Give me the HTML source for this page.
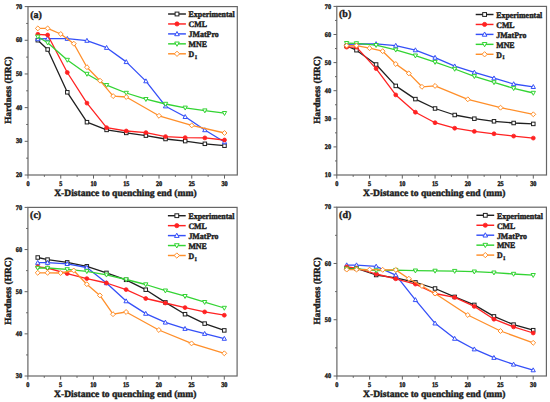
<!DOCTYPE html>
<html><head><meta charset="utf-8"><style>
html,body{margin:0;padding:0;background:#fff;}
body{width:550px;height:402px;overflow:hidden;}
svg{display:block;text-rendering:geometricPrecision;}
text{font-family:"Liberation Serif",serif;font-weight:bold;fill:#1a1a1a;stroke:#1a1a1a;stroke-width:0.4px;}
.tk{font-size:7.1px;}
.xl{font-size:9.57px;}
.yl{font-size:9.36px;}
.pl{font-size:10px;}
.lg{font-size:8.5px;}
</style></head><body>
<svg width="550" height="402" viewBox="0 0 550 402">
<rect width="550" height="402" fill="#fff"/>
<rect x="28.00" y="6.60" width="209.30" height="168.40" fill="none" stroke="#666" stroke-width="1.2"/>
<line x1="28.00" y1="175.00" x2="28.00" y2="178.60" stroke="#626262" stroke-width="1"/>
<text transform="translate(28.00,186.00) scale(0.88,1)" class="tk" text-anchor="middle">0</text>
<line x1="60.75" y1="175.00" x2="60.75" y2="178.60" stroke="#626262" stroke-width="1"/>
<text transform="translate(60.75,186.00) scale(0.88,1)" class="tk" text-anchor="middle">5</text>
<line x1="93.50" y1="175.00" x2="93.50" y2="178.60" stroke="#626262" stroke-width="1"/>
<text transform="translate(93.50,186.00) scale(0.88,1)" class="tk" text-anchor="middle">10</text>
<line x1="126.25" y1="175.00" x2="126.25" y2="178.60" stroke="#626262" stroke-width="1"/>
<text transform="translate(126.25,186.00) scale(0.88,1)" class="tk" text-anchor="middle">15</text>
<line x1="159.00" y1="175.00" x2="159.00" y2="178.60" stroke="#626262" stroke-width="1"/>
<text transform="translate(159.00,186.00) scale(0.88,1)" class="tk" text-anchor="middle">20</text>
<line x1="191.75" y1="175.00" x2="191.75" y2="178.60" stroke="#626262" stroke-width="1"/>
<text transform="translate(191.75,186.00) scale(0.88,1)" class="tk" text-anchor="middle">25</text>
<line x1="224.50" y1="175.00" x2="224.50" y2="178.60" stroke="#626262" stroke-width="1"/>
<text transform="translate(224.50,186.00) scale(0.88,1)" class="tk" text-anchor="middle">30</text>
<line x1="44.38" y1="175.00" x2="44.38" y2="176.80" stroke="#626262" stroke-width="1"/>
<line x1="77.12" y1="175.00" x2="77.12" y2="176.80" stroke="#626262" stroke-width="1"/>
<line x1="109.88" y1="175.00" x2="109.88" y2="176.80" stroke="#626262" stroke-width="1"/>
<line x1="142.62" y1="175.00" x2="142.62" y2="176.80" stroke="#626262" stroke-width="1"/>
<line x1="175.38" y1="175.00" x2="175.38" y2="176.80" stroke="#626262" stroke-width="1"/>
<line x1="208.12" y1="175.00" x2="208.12" y2="176.80" stroke="#626262" stroke-width="1"/>
<line x1="24.70" y1="175.00" x2="28.00" y2="175.00" stroke="#626262" stroke-width="1"/>
<text transform="translate(22.20,177.10) scale(0.88,1)" class="tk" text-anchor="end">20</text>
<line x1="26.20" y1="158.16" x2="28.00" y2="158.16" stroke="#626262" stroke-width="1"/>
<line x1="24.70" y1="141.32" x2="28.00" y2="141.32" stroke="#626262" stroke-width="1"/>
<text transform="translate(22.20,143.42) scale(0.88,1)" class="tk" text-anchor="end">30</text>
<line x1="26.20" y1="124.48" x2="28.00" y2="124.48" stroke="#626262" stroke-width="1"/>
<line x1="24.70" y1="107.64" x2="28.00" y2="107.64" stroke="#626262" stroke-width="1"/>
<text transform="translate(22.20,109.74) scale(0.88,1)" class="tk" text-anchor="end">40</text>
<line x1="26.20" y1="90.80" x2="28.00" y2="90.80" stroke="#626262" stroke-width="1"/>
<line x1="24.70" y1="73.96" x2="28.00" y2="73.96" stroke="#626262" stroke-width="1"/>
<text transform="translate(22.20,76.06) scale(0.88,1)" class="tk" text-anchor="end">50</text>
<line x1="26.20" y1="57.12" x2="28.00" y2="57.12" stroke="#626262" stroke-width="1"/>
<line x1="24.70" y1="40.28" x2="28.00" y2="40.28" stroke="#626262" stroke-width="1"/>
<text transform="translate(22.20,42.38) scale(0.88,1)" class="tk" text-anchor="end">60</text>
<line x1="26.20" y1="23.44" x2="28.00" y2="23.44" stroke="#626262" stroke-width="1"/>
<line x1="24.70" y1="6.60" x2="28.00" y2="6.60" stroke="#626262" stroke-width="1"/>
<text transform="translate(22.20,8.70) scale(0.88,1)" class="tk" text-anchor="end">70</text>
<text x="125.40" y="196.20" class="xl" text-anchor="middle">X-Distance to quenching end (mm)</text>
<text transform="translate(11.20,90.15) rotate(-90)" class="yl" text-anchor="middle">Hardness (HRC)</text>
<text x="30.20" y="17.60" class="pl">(a)</text>
<path d="M37.83 40.20 L47.65 49.50 L67.30 92.30 L86.95 122.20 L106.60 129.90 L126.25 132.90 L145.90 135.60 L165.55 139.00 L185.20 141.10 L204.85 143.80 L224.50 145.70" fill="none" stroke="#202020" stroke-width="1.3" stroke-linejoin="round"/>
<rect x="36.08" y="38.45" width="3.50" height="3.50" fill="#fff" stroke="#202020" stroke-width="1"/>
<rect x="45.90" y="47.75" width="3.50" height="3.50" fill="#fff" stroke="#202020" stroke-width="1"/>
<rect x="65.55" y="90.55" width="3.50" height="3.50" fill="#fff" stroke="#202020" stroke-width="1"/>
<rect x="85.20" y="120.45" width="3.50" height="3.50" fill="#fff" stroke="#202020" stroke-width="1"/>
<rect x="104.85" y="128.15" width="3.50" height="3.50" fill="#fff" stroke="#202020" stroke-width="1"/>
<rect x="124.50" y="131.15" width="3.50" height="3.50" fill="#fff" stroke="#202020" stroke-width="1"/>
<rect x="144.15" y="133.85" width="3.50" height="3.50" fill="#fff" stroke="#202020" stroke-width="1"/>
<rect x="163.80" y="137.25" width="3.50" height="3.50" fill="#fff" stroke="#202020" stroke-width="1"/>
<rect x="183.45" y="139.35" width="3.50" height="3.50" fill="#fff" stroke="#202020" stroke-width="1"/>
<rect x="203.10" y="142.05" width="3.50" height="3.50" fill="#fff" stroke="#202020" stroke-width="1"/>
<rect x="222.75" y="143.95" width="3.50" height="3.50" fill="#fff" stroke="#202020" stroke-width="1"/>
<path d="M37.83 39.00 L47.65 38.60 L67.30 38.70 L86.95 40.60 L106.60 47.70 L126.25 61.90 L145.90 81.10 L165.55 106.20 L185.20 116.80 L204.85 130.00 L224.50 142.00" fill="none" stroke="#3550f8" stroke-width="1.3" stroke-linejoin="round"/>
<path d="M37.83 36.74L39.98 40.69L35.67 40.69Z" fill="#fff" stroke="#3550f8" stroke-width="1"/>
<path d="M47.65 36.34L49.80 40.29L45.50 40.29Z" fill="#fff" stroke="#3550f8" stroke-width="1"/>
<path d="M67.30 36.45L69.45 40.39L65.15 40.39Z" fill="#fff" stroke="#3550f8" stroke-width="1"/>
<path d="M86.95 38.34L89.10 42.29L84.80 42.29Z" fill="#fff" stroke="#3550f8" stroke-width="1"/>
<path d="M106.60 45.45L108.75 49.39L104.45 49.39Z" fill="#fff" stroke="#3550f8" stroke-width="1"/>
<path d="M126.25 59.64L128.40 63.59L124.10 63.59Z" fill="#fff" stroke="#3550f8" stroke-width="1"/>
<path d="M145.90 78.84L148.05 82.79L143.75 82.79Z" fill="#fff" stroke="#3550f8" stroke-width="1"/>
<path d="M165.55 103.95L167.70 107.89L163.40 107.89Z" fill="#fff" stroke="#3550f8" stroke-width="1"/>
<path d="M185.20 114.55L187.35 118.49L183.05 118.49Z" fill="#fff" stroke="#3550f8" stroke-width="1"/>
<path d="M204.85 127.75L207.00 131.69L202.70 131.69Z" fill="#fff" stroke="#3550f8" stroke-width="1"/>
<path d="M224.50 139.75L226.65 143.69L222.35 143.69Z" fill="#fff" stroke="#3550f8" stroke-width="1"/>
<path d="M37.83 34.30 L47.65 35.00 L67.30 72.50 L86.95 103.10 L106.60 127.70 L126.25 131.00 L145.90 132.60 L165.55 136.60 L185.20 137.60 L204.85 137.90 L224.50 140.00" fill="none" stroke="#ff2222" stroke-width="1.3" stroke-linejoin="round"/>
<circle cx="37.83" cy="34.30" r="1.95" fill="#ff2222" stroke="#ff2222" stroke-width="0.8"/>
<circle cx="47.65" cy="35.00" r="1.95" fill="#ff2222" stroke="#ff2222" stroke-width="0.8"/>
<circle cx="67.30" cy="72.50" r="1.95" fill="#ff2222" stroke="#ff2222" stroke-width="0.8"/>
<circle cx="86.95" cy="103.10" r="1.95" fill="#ff2222" stroke="#ff2222" stroke-width="0.8"/>
<circle cx="106.60" cy="127.70" r="1.95" fill="#ff2222" stroke="#ff2222" stroke-width="0.8"/>
<circle cx="126.25" cy="131.00" r="1.95" fill="#ff2222" stroke="#ff2222" stroke-width="0.8"/>
<circle cx="145.90" cy="132.60" r="1.95" fill="#ff2222" stroke="#ff2222" stroke-width="0.8"/>
<circle cx="165.55" cy="136.60" r="1.95" fill="#ff2222" stroke="#ff2222" stroke-width="0.8"/>
<circle cx="185.20" cy="137.60" r="1.95" fill="#ff2222" stroke="#ff2222" stroke-width="0.8"/>
<circle cx="204.85" cy="137.90" r="1.95" fill="#ff2222" stroke="#ff2222" stroke-width="0.8"/>
<circle cx="224.50" cy="140.00" r="1.95" fill="#ff2222" stroke="#ff2222" stroke-width="0.8"/>
<path d="M37.83 36.80 L47.65 42.70 L67.30 60.00 L86.95 74.00 L106.60 85.20 L126.25 93.00 L145.90 99.20 L165.55 104.00 L185.20 107.80 L204.85 110.60 L224.50 113.20" fill="none" stroke="#33d433" stroke-width="1.3" stroke-linejoin="round"/>
<path d="M37.83 39.05L39.98 35.11L35.67 35.11Z" fill="#fff" stroke="#33d433" stroke-width="1"/>
<path d="M47.65 44.96L49.80 41.01L45.50 41.01Z" fill="#fff" stroke="#33d433" stroke-width="1"/>
<path d="M67.30 62.26L69.45 58.31L65.15 58.31Z" fill="#fff" stroke="#33d433" stroke-width="1"/>
<path d="M86.95 76.25L89.10 72.31L84.80 72.31Z" fill="#fff" stroke="#33d433" stroke-width="1"/>
<path d="M106.60 87.45L108.75 83.51L104.45 83.51Z" fill="#fff" stroke="#33d433" stroke-width="1"/>
<path d="M126.25 95.25L128.40 91.31L124.10 91.31Z" fill="#fff" stroke="#33d433" stroke-width="1"/>
<path d="M145.90 101.45L148.05 97.51L143.75 97.51Z" fill="#fff" stroke="#33d433" stroke-width="1"/>
<path d="M165.55 106.25L167.70 102.31L163.40 102.31Z" fill="#fff" stroke="#33d433" stroke-width="1"/>
<path d="M185.20 110.05L187.35 106.11L183.05 106.11Z" fill="#fff" stroke="#33d433" stroke-width="1"/>
<path d="M204.85 112.85L207.00 108.91L202.70 108.91Z" fill="#fff" stroke="#33d433" stroke-width="1"/>
<path d="M224.50 115.45L226.65 111.51L222.35 111.51Z" fill="#fff" stroke="#33d433" stroke-width="1"/>
<path d="M37.83 28.40 L47.65 28.40 L60.75 34.00 L73.85 43.70 L86.95 67.20 L100.05 80.70 L113.15 96.10 L126.25 97.00 L159.00 115.80 L191.75 125.40 L224.50 133.00" fill="none" stroke="#ff8f2a" stroke-width="1.3" stroke-linejoin="round"/>
<path d="M37.83 25.94L40.29 28.40L37.83 30.86L35.37 28.40Z" fill="#fff" stroke="#ff8f2a" stroke-width="1"/>
<path d="M47.65 25.94L50.11 28.40L47.65 30.86L45.19 28.40Z" fill="#fff" stroke="#ff8f2a" stroke-width="1"/>
<path d="M60.75 31.54L63.21 34.00L60.75 36.46L58.29 34.00Z" fill="#fff" stroke="#ff8f2a" stroke-width="1"/>
<path d="M73.85 41.24L76.31 43.70L73.85 46.16L71.39 43.70Z" fill="#fff" stroke="#ff8f2a" stroke-width="1"/>
<path d="M86.95 64.74L89.41 67.20L86.95 69.66L84.49 67.20Z" fill="#fff" stroke="#ff8f2a" stroke-width="1"/>
<path d="M100.05 78.24L102.51 80.70L100.05 83.16L97.59 80.70Z" fill="#fff" stroke="#ff8f2a" stroke-width="1"/>
<path d="M113.15 93.64L115.61 96.10L113.15 98.56L110.69 96.10Z" fill="#fff" stroke="#ff8f2a" stroke-width="1"/>
<path d="M126.25 94.54L128.71 97.00L126.25 99.46L123.79 97.00Z" fill="#fff" stroke="#ff8f2a" stroke-width="1"/>
<path d="M159.00 113.34L161.46 115.80L159.00 118.26L156.54 115.80Z" fill="#fff" stroke="#ff8f2a" stroke-width="1"/>
<path d="M191.75 122.94L194.21 125.40L191.75 127.86L189.29 125.40Z" fill="#fff" stroke="#ff8f2a" stroke-width="1"/>
<path d="M224.50 130.54L226.96 133.00L224.50 135.46L222.04 133.00Z" fill="#fff" stroke="#ff8f2a" stroke-width="1"/>
<line x1="168.10" y1="14.00" x2="185.90" y2="14.00" stroke="#202020" stroke-width="1.45"/>
<rect x="175.10" y="12.10" width="3.80" height="3.80" fill="#fff" stroke="#202020" stroke-width="1"/>
<text transform="translate(188.60,17.30) scale(0.93,1)" class="lg">Experimental</text>
<line x1="168.10" y1="23.95" x2="185.90" y2="23.95" stroke="#ff2222" stroke-width="1.45"/>
<circle cx="177.00" cy="23.95" r="2.09" fill="#ff2222" stroke="#ff2222" stroke-width="0.8"/>
<text transform="translate(188.60,27.25) scale(0.93,1)" class="lg">CML</text>
<line x1="168.10" y1="33.90" x2="185.90" y2="33.90" stroke="#3550f8" stroke-width="1.45"/>
<path d="M177.00 31.48L179.31 35.71L174.69 35.71Z" fill="#fff" stroke="#3550f8" stroke-width="1"/>
<text transform="translate(188.60,37.20) scale(0.93,1)" class="lg">JMatPro</text>
<line x1="168.10" y1="43.85" x2="185.90" y2="43.85" stroke="#33d433" stroke-width="1.45"/>
<path d="M177.00 46.27L179.31 42.03L174.69 42.03Z" fill="#fff" stroke="#33d433" stroke-width="1"/>
<text transform="translate(188.60,47.15) scale(0.93,1)" class="lg">MNE</text>
<line x1="168.10" y1="53.80" x2="185.90" y2="53.80" stroke="#ff8f2a" stroke-width="1.45"/>
<path d="M177.00 51.16L179.64 53.80L177.00 56.44L174.36 53.80Z" fill="#fff" stroke="#ff8f2a" stroke-width="1"/>
<text transform="translate(188.60,57.10) scale(0.93,1)" class="lg">D<tspan dx="0.7" dy="1.8" style="font-size:5.5px">I</tspan></text>
<rect x="336.80" y="6.40" width="209.70" height="168.60" fill="none" stroke="#666" stroke-width="1.2"/>
<line x1="336.80" y1="175.00" x2="336.80" y2="178.60" stroke="#626262" stroke-width="1"/>
<text transform="translate(336.80,186.00) scale(0.88,1)" class="tk" text-anchor="middle">0</text>
<line x1="369.55" y1="175.00" x2="369.55" y2="178.60" stroke="#626262" stroke-width="1"/>
<text transform="translate(369.55,186.00) scale(0.88,1)" class="tk" text-anchor="middle">5</text>
<line x1="402.30" y1="175.00" x2="402.30" y2="178.60" stroke="#626262" stroke-width="1"/>
<text transform="translate(402.30,186.00) scale(0.88,1)" class="tk" text-anchor="middle">10</text>
<line x1="435.05" y1="175.00" x2="435.05" y2="178.60" stroke="#626262" stroke-width="1"/>
<text transform="translate(435.05,186.00) scale(0.88,1)" class="tk" text-anchor="middle">15</text>
<line x1="467.80" y1="175.00" x2="467.80" y2="178.60" stroke="#626262" stroke-width="1"/>
<text transform="translate(467.80,186.00) scale(0.88,1)" class="tk" text-anchor="middle">20</text>
<line x1="500.55" y1="175.00" x2="500.55" y2="178.60" stroke="#626262" stroke-width="1"/>
<text transform="translate(500.55,186.00) scale(0.88,1)" class="tk" text-anchor="middle">25</text>
<line x1="533.30" y1="175.00" x2="533.30" y2="178.60" stroke="#626262" stroke-width="1"/>
<text transform="translate(533.30,186.00) scale(0.88,1)" class="tk" text-anchor="middle">30</text>
<line x1="353.18" y1="175.00" x2="353.18" y2="176.80" stroke="#626262" stroke-width="1"/>
<line x1="385.93" y1="175.00" x2="385.93" y2="176.80" stroke="#626262" stroke-width="1"/>
<line x1="418.67" y1="175.00" x2="418.67" y2="176.80" stroke="#626262" stroke-width="1"/>
<line x1="451.42" y1="175.00" x2="451.42" y2="176.80" stroke="#626262" stroke-width="1"/>
<line x1="484.17" y1="175.00" x2="484.17" y2="176.80" stroke="#626262" stroke-width="1"/>
<line x1="516.92" y1="175.00" x2="516.92" y2="176.80" stroke="#626262" stroke-width="1"/>
<line x1="333.50" y1="175.00" x2="336.80" y2="175.00" stroke="#626262" stroke-width="1"/>
<text transform="translate(331.00,177.10) scale(0.88,1)" class="tk" text-anchor="end">10</text>
<line x1="335.00" y1="160.95" x2="336.80" y2="160.95" stroke="#626262" stroke-width="1"/>
<line x1="333.50" y1="146.90" x2="336.80" y2="146.90" stroke="#626262" stroke-width="1"/>
<text transform="translate(331.00,149.00) scale(0.88,1)" class="tk" text-anchor="end">20</text>
<line x1="335.00" y1="132.85" x2="336.80" y2="132.85" stroke="#626262" stroke-width="1"/>
<line x1="333.50" y1="118.80" x2="336.80" y2="118.80" stroke="#626262" stroke-width="1"/>
<text transform="translate(331.00,120.90) scale(0.88,1)" class="tk" text-anchor="end">30</text>
<line x1="335.00" y1="104.75" x2="336.80" y2="104.75" stroke="#626262" stroke-width="1"/>
<line x1="333.50" y1="90.70" x2="336.80" y2="90.70" stroke="#626262" stroke-width="1"/>
<text transform="translate(331.00,92.80) scale(0.88,1)" class="tk" text-anchor="end">40</text>
<line x1="335.00" y1="76.65" x2="336.80" y2="76.65" stroke="#626262" stroke-width="1"/>
<line x1="333.50" y1="62.60" x2="336.80" y2="62.60" stroke="#626262" stroke-width="1"/>
<text transform="translate(331.00,64.70) scale(0.88,1)" class="tk" text-anchor="end">50</text>
<line x1="335.00" y1="48.55" x2="336.80" y2="48.55" stroke="#626262" stroke-width="1"/>
<line x1="333.50" y1="34.50" x2="336.80" y2="34.50" stroke="#626262" stroke-width="1"/>
<text transform="translate(331.00,36.60) scale(0.88,1)" class="tk" text-anchor="end">60</text>
<line x1="335.00" y1="20.45" x2="336.80" y2="20.45" stroke="#626262" stroke-width="1"/>
<line x1="333.50" y1="6.40" x2="336.80" y2="6.40" stroke="#626262" stroke-width="1"/>
<text transform="translate(331.00,8.50) scale(0.88,1)" class="tk" text-anchor="end">70</text>
<text x="434.20" y="196.20" class="xl" text-anchor="middle">X-Distance to quenching end (mm)</text>
<text transform="translate(320.00,90.05) rotate(-90)" class="yl" text-anchor="middle">Hardness (HRC)</text>
<text x="339.00" y="17.40" class="pl">(b)</text>
<path d="M346.62 46.00 L356.45 50.20 L376.10 64.50 L395.75 85.90 L415.40 99.10 L435.05 108.50 L454.70 115.00 L474.35 118.70 L494.00 121.30 L513.65 123.00 L533.30 123.90" fill="none" stroke="#202020" stroke-width="1.3" stroke-linejoin="round"/>
<rect x="344.88" y="44.25" width="3.50" height="3.50" fill="#fff" stroke="#202020" stroke-width="1"/>
<rect x="354.70" y="48.45" width="3.50" height="3.50" fill="#fff" stroke="#202020" stroke-width="1"/>
<rect x="374.35" y="62.75" width="3.50" height="3.50" fill="#fff" stroke="#202020" stroke-width="1"/>
<rect x="394.00" y="84.15" width="3.50" height="3.50" fill="#fff" stroke="#202020" stroke-width="1"/>
<rect x="413.65" y="97.35" width="3.50" height="3.50" fill="#fff" stroke="#202020" stroke-width="1"/>
<rect x="433.30" y="106.75" width="3.50" height="3.50" fill="#fff" stroke="#202020" stroke-width="1"/>
<rect x="452.95" y="113.25" width="3.50" height="3.50" fill="#fff" stroke="#202020" stroke-width="1"/>
<rect x="472.60" y="116.95" width="3.50" height="3.50" fill="#fff" stroke="#202020" stroke-width="1"/>
<rect x="492.25" y="119.55" width="3.50" height="3.50" fill="#fff" stroke="#202020" stroke-width="1"/>
<rect x="511.90" y="121.25" width="3.50" height="3.50" fill="#fff" stroke="#202020" stroke-width="1"/>
<rect x="531.55" y="122.15" width="3.50" height="3.50" fill="#fff" stroke="#202020" stroke-width="1"/>
<path d="M346.62 44.40 L356.45 44.00 L376.10 43.90 L395.75 45.60 L415.40 50.10 L435.05 57.60 L454.70 66.20 L474.35 72.40 L494.00 78.20 L513.65 84.00 L533.30 86.80" fill="none" stroke="#3550f8" stroke-width="1.3" stroke-linejoin="round"/>
<path d="M346.62 42.14L348.78 46.09L344.47 46.09Z" fill="#fff" stroke="#3550f8" stroke-width="1"/>
<path d="M356.45 41.74L358.60 45.69L354.30 45.69Z" fill="#fff" stroke="#3550f8" stroke-width="1"/>
<path d="M376.10 41.64L378.25 45.59L373.95 45.59Z" fill="#fff" stroke="#3550f8" stroke-width="1"/>
<path d="M395.75 43.34L397.90 47.29L393.60 47.29Z" fill="#fff" stroke="#3550f8" stroke-width="1"/>
<path d="M415.40 47.84L417.55 51.79L413.25 51.79Z" fill="#fff" stroke="#3550f8" stroke-width="1"/>
<path d="M435.05 55.34L437.20 59.29L432.90 59.29Z" fill="#fff" stroke="#3550f8" stroke-width="1"/>
<path d="M454.70 63.95L456.85 67.89L452.55 67.89Z" fill="#fff" stroke="#3550f8" stroke-width="1"/>
<path d="M474.35 70.15L476.50 74.09L472.20 74.09Z" fill="#fff" stroke="#3550f8" stroke-width="1"/>
<path d="M494.00 75.95L496.15 79.89L491.85 79.89Z" fill="#fff" stroke="#3550f8" stroke-width="1"/>
<path d="M513.65 81.75L515.80 85.69L511.50 85.69Z" fill="#fff" stroke="#3550f8" stroke-width="1"/>
<path d="M533.30 84.55L535.45 88.49L531.15 88.49Z" fill="#fff" stroke="#3550f8" stroke-width="1"/>
<path d="M346.62 47.10 L356.45 47.10 L376.10 68.60 L395.75 94.90 L415.40 112.20 L435.05 122.70 L454.70 128.20 L474.35 131.40 L494.00 133.80 L513.65 136.10 L533.30 138.10" fill="none" stroke="#ff2222" stroke-width="1.3" stroke-linejoin="round"/>
<circle cx="346.62" cy="47.10" r="1.95" fill="#ff2222" stroke="#ff2222" stroke-width="0.8"/>
<circle cx="356.45" cy="47.10" r="1.95" fill="#ff2222" stroke="#ff2222" stroke-width="0.8"/>
<circle cx="376.10" cy="68.60" r="1.95" fill="#ff2222" stroke="#ff2222" stroke-width="0.8"/>
<circle cx="395.75" cy="94.90" r="1.95" fill="#ff2222" stroke="#ff2222" stroke-width="0.8"/>
<circle cx="415.40" cy="112.20" r="1.95" fill="#ff2222" stroke="#ff2222" stroke-width="0.8"/>
<circle cx="435.05" cy="122.70" r="1.95" fill="#ff2222" stroke="#ff2222" stroke-width="0.8"/>
<circle cx="454.70" cy="128.20" r="1.95" fill="#ff2222" stroke="#ff2222" stroke-width="0.8"/>
<circle cx="474.35" cy="131.40" r="1.95" fill="#ff2222" stroke="#ff2222" stroke-width="0.8"/>
<circle cx="494.00" cy="133.80" r="1.95" fill="#ff2222" stroke="#ff2222" stroke-width="0.8"/>
<circle cx="513.65" cy="136.10" r="1.95" fill="#ff2222" stroke="#ff2222" stroke-width="0.8"/>
<circle cx="533.30" cy="138.10" r="1.95" fill="#ff2222" stroke="#ff2222" stroke-width="0.8"/>
<path d="M346.62 43.20 L356.45 43.40 L376.10 45.20 L395.75 49.80 L415.40 55.70 L435.05 62.10 L454.70 69.00 L474.35 76.30 L494.00 82.40 L513.65 88.30 L533.30 93.00" fill="none" stroke="#33d433" stroke-width="1.3" stroke-linejoin="round"/>
<path d="M346.62 45.46L348.78 41.51L344.47 41.51Z" fill="#fff" stroke="#33d433" stroke-width="1"/>
<path d="M356.45 45.66L358.60 41.71L354.30 41.71Z" fill="#fff" stroke="#33d433" stroke-width="1"/>
<path d="M376.10 47.46L378.25 43.51L373.95 43.51Z" fill="#fff" stroke="#33d433" stroke-width="1"/>
<path d="M395.75 52.05L397.90 48.11L393.60 48.11Z" fill="#fff" stroke="#33d433" stroke-width="1"/>
<path d="M415.40 57.96L417.55 54.01L413.25 54.01Z" fill="#fff" stroke="#33d433" stroke-width="1"/>
<path d="M435.05 64.36L437.20 60.41L432.90 60.41Z" fill="#fff" stroke="#33d433" stroke-width="1"/>
<path d="M454.70 71.25L456.85 67.31L452.55 67.31Z" fill="#fff" stroke="#33d433" stroke-width="1"/>
<path d="M474.35 78.55L476.50 74.61L472.20 74.61Z" fill="#fff" stroke="#33d433" stroke-width="1"/>
<path d="M494.00 84.66L496.15 80.71L491.85 80.71Z" fill="#fff" stroke="#33d433" stroke-width="1"/>
<path d="M513.65 90.55L515.80 86.61L511.50 86.61Z" fill="#fff" stroke="#33d433" stroke-width="1"/>
<path d="M533.30 95.25L535.45 91.31L531.15 91.31Z" fill="#fff" stroke="#33d433" stroke-width="1"/>
<path d="M346.62 45.60 L356.45 45.60 L369.55 48.20 L382.65 51.20 L395.75 64.00 L408.85 73.40 L421.95 86.80 L435.05 85.90 L467.80 99.30 L500.55 107.70 L533.30 114.30" fill="none" stroke="#ff8f2a" stroke-width="1.3" stroke-linejoin="round"/>
<path d="M346.62 43.14L349.08 45.60L346.62 48.06L344.17 45.60Z" fill="#fff" stroke="#ff8f2a" stroke-width="1"/>
<path d="M356.45 43.14L358.91 45.60L356.45 48.06L353.99 45.60Z" fill="#fff" stroke="#ff8f2a" stroke-width="1"/>
<path d="M369.55 45.74L372.01 48.20L369.55 50.66L367.09 48.20Z" fill="#fff" stroke="#ff8f2a" stroke-width="1"/>
<path d="M382.65 48.74L385.11 51.20L382.65 53.66L380.19 51.20Z" fill="#fff" stroke="#ff8f2a" stroke-width="1"/>
<path d="M395.75 61.54L398.21 64.00L395.75 66.46L393.29 64.00Z" fill="#fff" stroke="#ff8f2a" stroke-width="1"/>
<path d="M408.85 70.94L411.31 73.40L408.85 75.86L406.39 73.40Z" fill="#fff" stroke="#ff8f2a" stroke-width="1"/>
<path d="M421.95 84.34L424.41 86.80L421.95 89.26L419.49 86.80Z" fill="#fff" stroke="#ff8f2a" stroke-width="1"/>
<path d="M435.05 83.44L437.51 85.90L435.05 88.36L432.59 85.90Z" fill="#fff" stroke="#ff8f2a" stroke-width="1"/>
<path d="M467.80 96.84L470.26 99.30L467.80 101.76L465.34 99.30Z" fill="#fff" stroke="#ff8f2a" stroke-width="1"/>
<path d="M500.55 105.24L503.01 107.70L500.55 110.16L498.09 107.70Z" fill="#fff" stroke="#ff8f2a" stroke-width="1"/>
<path d="M533.30 111.84L535.76 114.30L533.30 116.76L530.84 114.30Z" fill="#fff" stroke="#ff8f2a" stroke-width="1"/>
<line x1="475.70" y1="14.50" x2="493.50" y2="14.50" stroke="#202020" stroke-width="1.45"/>
<rect x="482.70" y="12.60" width="3.80" height="3.80" fill="#fff" stroke="#202020" stroke-width="1"/>
<text transform="translate(496.20,17.80) scale(0.93,1)" class="lg">Experimental</text>
<line x1="475.70" y1="24.45" x2="493.50" y2="24.45" stroke="#ff2222" stroke-width="1.45"/>
<circle cx="484.60" cy="24.45" r="2.09" fill="#ff2222" stroke="#ff2222" stroke-width="0.8"/>
<text transform="translate(496.20,27.75) scale(0.93,1)" class="lg">CML</text>
<line x1="475.70" y1="34.40" x2="493.50" y2="34.40" stroke="#3550f8" stroke-width="1.45"/>
<path d="M484.60 31.98L486.91 36.21L482.29 36.21Z" fill="#fff" stroke="#3550f8" stroke-width="1"/>
<text transform="translate(496.20,37.70) scale(0.93,1)" class="lg">JMatPro</text>
<line x1="475.70" y1="44.35" x2="493.50" y2="44.35" stroke="#33d433" stroke-width="1.45"/>
<path d="M484.60 46.77L486.91 42.53L482.29 42.53Z" fill="#fff" stroke="#33d433" stroke-width="1"/>
<text transform="translate(496.20,47.65) scale(0.93,1)" class="lg">MNE</text>
<line x1="475.70" y1="54.30" x2="493.50" y2="54.30" stroke="#ff8f2a" stroke-width="1.45"/>
<path d="M484.60 51.66L487.24 54.30L484.60 56.94L481.96 54.30Z" fill="#fff" stroke="#ff8f2a" stroke-width="1"/>
<text transform="translate(496.20,57.60) scale(0.93,1)" class="lg">D<tspan dx="0.7" dy="1.8" style="font-size:5.5px">I</tspan></text>
<rect x="27.90" y="207.40" width="209.20" height="168.60" fill="none" stroke="#666" stroke-width="1.2"/>
<line x1="27.90" y1="376.00" x2="27.90" y2="379.60" stroke="#626262" stroke-width="1"/>
<text transform="translate(27.90,387.00) scale(0.88,1)" class="tk" text-anchor="middle">0</text>
<line x1="60.63" y1="376.00" x2="60.63" y2="379.60" stroke="#626262" stroke-width="1"/>
<text transform="translate(60.63,387.00) scale(0.88,1)" class="tk" text-anchor="middle">5</text>
<line x1="93.37" y1="376.00" x2="93.37" y2="379.60" stroke="#626262" stroke-width="1"/>
<text transform="translate(93.37,387.00) scale(0.88,1)" class="tk" text-anchor="middle">10</text>
<line x1="126.10" y1="376.00" x2="126.10" y2="379.60" stroke="#626262" stroke-width="1"/>
<text transform="translate(126.10,387.00) scale(0.88,1)" class="tk" text-anchor="middle">15</text>
<line x1="158.83" y1="376.00" x2="158.83" y2="379.60" stroke="#626262" stroke-width="1"/>
<text transform="translate(158.83,387.00) scale(0.88,1)" class="tk" text-anchor="middle">20</text>
<line x1="191.57" y1="376.00" x2="191.57" y2="379.60" stroke="#626262" stroke-width="1"/>
<text transform="translate(191.57,387.00) scale(0.88,1)" class="tk" text-anchor="middle">25</text>
<line x1="224.30" y1="376.00" x2="224.30" y2="379.60" stroke="#626262" stroke-width="1"/>
<text transform="translate(224.30,387.00) scale(0.88,1)" class="tk" text-anchor="middle">30</text>
<line x1="44.27" y1="376.00" x2="44.27" y2="377.80" stroke="#626262" stroke-width="1"/>
<line x1="77.00" y1="376.00" x2="77.00" y2="377.80" stroke="#626262" stroke-width="1"/>
<line x1="109.73" y1="376.00" x2="109.73" y2="377.80" stroke="#626262" stroke-width="1"/>
<line x1="142.47" y1="376.00" x2="142.47" y2="377.80" stroke="#626262" stroke-width="1"/>
<line x1="175.20" y1="376.00" x2="175.20" y2="377.80" stroke="#626262" stroke-width="1"/>
<line x1="207.93" y1="376.00" x2="207.93" y2="377.80" stroke="#626262" stroke-width="1"/>
<line x1="24.60" y1="376.00" x2="27.90" y2="376.00" stroke="#626262" stroke-width="1"/>
<text transform="translate(22.10,378.10) scale(0.88,1)" class="tk" text-anchor="end">30</text>
<line x1="26.10" y1="354.93" x2="27.90" y2="354.93" stroke="#626262" stroke-width="1"/>
<line x1="24.60" y1="333.85" x2="27.90" y2="333.85" stroke="#626262" stroke-width="1"/>
<text transform="translate(22.10,335.95) scale(0.88,1)" class="tk" text-anchor="end">40</text>
<line x1="26.10" y1="312.77" x2="27.90" y2="312.77" stroke="#626262" stroke-width="1"/>
<line x1="24.60" y1="291.70" x2="27.90" y2="291.70" stroke="#626262" stroke-width="1"/>
<text transform="translate(22.10,293.80) scale(0.88,1)" class="tk" text-anchor="end">50</text>
<line x1="26.10" y1="270.62" x2="27.90" y2="270.62" stroke="#626262" stroke-width="1"/>
<line x1="24.60" y1="249.55" x2="27.90" y2="249.55" stroke="#626262" stroke-width="1"/>
<text transform="translate(22.10,251.65) scale(0.88,1)" class="tk" text-anchor="end">60</text>
<line x1="26.10" y1="228.47" x2="27.90" y2="228.47" stroke="#626262" stroke-width="1"/>
<line x1="24.60" y1="207.40" x2="27.90" y2="207.40" stroke="#626262" stroke-width="1"/>
<text transform="translate(22.10,209.50) scale(0.88,1)" class="tk" text-anchor="end">70</text>
<text x="125.30" y="397.20" class="xl" text-anchor="middle">X-Distance to quenching end (mm)</text>
<text transform="translate(11.10,291.05) rotate(-90)" class="yl" text-anchor="middle">Hardness (HRC)</text>
<text x="30.10" y="218.40" class="pl">(c)</text>
<path d="M37.72 257.50 L47.54 259.60 L67.18 262.40 L86.82 266.30 L106.46 272.90 L126.10 279.80 L145.74 289.70 L165.38 302.40 L185.02 314.20 L204.66 323.60 L224.30 330.40" fill="none" stroke="#202020" stroke-width="1.3" stroke-linejoin="round"/>
<rect x="35.97" y="255.75" width="3.50" height="3.50" fill="#fff" stroke="#202020" stroke-width="1"/>
<rect x="45.79" y="257.85" width="3.50" height="3.50" fill="#fff" stroke="#202020" stroke-width="1"/>
<rect x="65.43" y="260.65" width="3.50" height="3.50" fill="#fff" stroke="#202020" stroke-width="1"/>
<rect x="85.07" y="264.55" width="3.50" height="3.50" fill="#fff" stroke="#202020" stroke-width="1"/>
<rect x="104.71" y="271.15" width="3.50" height="3.50" fill="#fff" stroke="#202020" stroke-width="1"/>
<rect x="124.35" y="278.05" width="3.50" height="3.50" fill="#fff" stroke="#202020" stroke-width="1"/>
<rect x="143.99" y="287.95" width="3.50" height="3.50" fill="#fff" stroke="#202020" stroke-width="1"/>
<rect x="163.63" y="300.65" width="3.50" height="3.50" fill="#fff" stroke="#202020" stroke-width="1"/>
<rect x="183.27" y="312.45" width="3.50" height="3.50" fill="#fff" stroke="#202020" stroke-width="1"/>
<rect x="202.91" y="321.85" width="3.50" height="3.50" fill="#fff" stroke="#202020" stroke-width="1"/>
<rect x="222.55" y="328.65" width="3.50" height="3.50" fill="#fff" stroke="#202020" stroke-width="1"/>
<path d="M37.72 262.70 L47.54 262.70 L67.18 263.80 L86.82 267.50 L106.46 283.00 L126.10 301.10 L145.74 313.60 L165.38 322.40 L185.02 328.70 L204.66 333.70 L224.30 338.60" fill="none" stroke="#3550f8" stroke-width="1.3" stroke-linejoin="round"/>
<path d="M37.72 260.44L39.87 264.39L35.57 264.39Z" fill="#fff" stroke="#3550f8" stroke-width="1"/>
<path d="M47.54 260.44L49.69 264.39L45.39 264.39Z" fill="#fff" stroke="#3550f8" stroke-width="1"/>
<path d="M67.18 261.55L69.33 265.49L65.03 265.49Z" fill="#fff" stroke="#3550f8" stroke-width="1"/>
<path d="M86.82 265.25L88.97 269.19L84.67 269.19Z" fill="#fff" stroke="#3550f8" stroke-width="1"/>
<path d="M106.46 280.75L108.61 284.69L104.31 284.69Z" fill="#fff" stroke="#3550f8" stroke-width="1"/>
<path d="M126.10 298.85L128.25 302.79L123.95 302.79Z" fill="#fff" stroke="#3550f8" stroke-width="1"/>
<path d="M145.74 311.35L147.89 315.29L143.59 315.29Z" fill="#fff" stroke="#3550f8" stroke-width="1"/>
<path d="M165.38 320.14L167.53 324.09L163.23 324.09Z" fill="#fff" stroke="#3550f8" stroke-width="1"/>
<path d="M185.02 326.44L187.17 330.39L182.87 330.39Z" fill="#fff" stroke="#3550f8" stroke-width="1"/>
<path d="M204.66 331.44L206.81 335.39L202.51 335.39Z" fill="#fff" stroke="#3550f8" stroke-width="1"/>
<path d="M224.30 336.35L226.45 340.29L222.15 340.29Z" fill="#fff" stroke="#3550f8" stroke-width="1"/>
<path d="M37.72 266.80 L47.54 268.00 L67.18 273.60 L86.82 278.60 L106.46 283.00 L126.10 289.60 L145.74 298.50 L165.38 303.00 L185.02 307.60 L204.66 311.90 L224.30 315.20" fill="none" stroke="#ff2222" stroke-width="1.3" stroke-linejoin="round"/>
<circle cx="37.72" cy="266.80" r="1.95" fill="#ff2222" stroke="#ff2222" stroke-width="0.8"/>
<circle cx="47.54" cy="268.00" r="1.95" fill="#ff2222" stroke="#ff2222" stroke-width="0.8"/>
<circle cx="67.18" cy="273.60" r="1.95" fill="#ff2222" stroke="#ff2222" stroke-width="0.8"/>
<circle cx="86.82" cy="278.60" r="1.95" fill="#ff2222" stroke="#ff2222" stroke-width="0.8"/>
<circle cx="106.46" cy="283.00" r="1.95" fill="#ff2222" stroke="#ff2222" stroke-width="0.8"/>
<circle cx="126.10" cy="289.60" r="1.95" fill="#ff2222" stroke="#ff2222" stroke-width="0.8"/>
<circle cx="145.74" cy="298.50" r="1.95" fill="#ff2222" stroke="#ff2222" stroke-width="0.8"/>
<circle cx="165.38" cy="303.00" r="1.95" fill="#ff2222" stroke="#ff2222" stroke-width="0.8"/>
<circle cx="185.02" cy="307.60" r="1.95" fill="#ff2222" stroke="#ff2222" stroke-width="0.8"/>
<circle cx="204.66" cy="311.90" r="1.95" fill="#ff2222" stroke="#ff2222" stroke-width="0.8"/>
<circle cx="224.30" cy="315.20" r="1.95" fill="#ff2222" stroke="#ff2222" stroke-width="0.8"/>
<path d="M37.72 268.00 L47.54 268.00 L67.18 269.40 L86.82 271.30 L106.46 274.80 L126.10 279.50 L145.74 284.50 L165.38 290.70 L185.02 296.20 L204.66 302.20 L224.30 308.00" fill="none" stroke="#33d433" stroke-width="1.3" stroke-linejoin="round"/>
<path d="M37.72 270.25L39.87 266.31L35.57 266.31Z" fill="#fff" stroke="#33d433" stroke-width="1"/>
<path d="M47.54 270.25L49.69 266.31L45.39 266.31Z" fill="#fff" stroke="#33d433" stroke-width="1"/>
<path d="M67.18 271.65L69.33 267.71L65.03 267.71Z" fill="#fff" stroke="#33d433" stroke-width="1"/>
<path d="M86.82 273.56L88.97 269.61L84.67 269.61Z" fill="#fff" stroke="#33d433" stroke-width="1"/>
<path d="M106.46 277.06L108.61 273.11L104.31 273.11Z" fill="#fff" stroke="#33d433" stroke-width="1"/>
<path d="M126.10 281.75L128.25 277.81L123.95 277.81Z" fill="#fff" stroke="#33d433" stroke-width="1"/>
<path d="M145.74 286.75L147.89 282.81L143.59 282.81Z" fill="#fff" stroke="#33d433" stroke-width="1"/>
<path d="M165.38 292.95L167.53 289.01L163.23 289.01Z" fill="#fff" stroke="#33d433" stroke-width="1"/>
<path d="M185.02 298.45L187.17 294.51L182.87 294.51Z" fill="#fff" stroke="#33d433" stroke-width="1"/>
<path d="M204.66 304.45L206.81 300.51L202.51 300.51Z" fill="#fff" stroke="#33d433" stroke-width="1"/>
<path d="M224.30 310.25L226.45 306.31L222.15 306.31Z" fill="#fff" stroke="#33d433" stroke-width="1"/>
<path d="M37.72 272.80 L47.54 272.80 L60.63 273.00 L73.73 270.50 L86.82 284.20 L99.91 295.40 L113.01 314.20 L126.10 312.00 L158.83 330.00 L191.57 343.40 L224.30 353.30" fill="none" stroke="#ff8f2a" stroke-width="1.3" stroke-linejoin="round"/>
<path d="M37.72 270.34L40.18 272.80L37.72 275.26L35.26 272.80Z" fill="#fff" stroke="#ff8f2a" stroke-width="1"/>
<path d="M47.54 270.34L50.00 272.80L47.54 275.26L45.08 272.80Z" fill="#fff" stroke="#ff8f2a" stroke-width="1"/>
<path d="M60.63 270.54L63.09 273.00L60.63 275.46L58.17 273.00Z" fill="#fff" stroke="#ff8f2a" stroke-width="1"/>
<path d="M73.73 268.04L76.19 270.50L73.73 272.96L71.27 270.50Z" fill="#fff" stroke="#ff8f2a" stroke-width="1"/>
<path d="M86.82 281.74L89.28 284.20L86.82 286.66L84.36 284.20Z" fill="#fff" stroke="#ff8f2a" stroke-width="1"/>
<path d="M99.91 292.94L102.37 295.40L99.91 297.86L97.45 295.40Z" fill="#fff" stroke="#ff8f2a" stroke-width="1"/>
<path d="M113.01 311.74L115.47 314.20L113.01 316.66L110.55 314.20Z" fill="#fff" stroke="#ff8f2a" stroke-width="1"/>
<path d="M126.10 309.54L128.56 312.00L126.10 314.46L123.64 312.00Z" fill="#fff" stroke="#ff8f2a" stroke-width="1"/>
<path d="M158.83 327.54L161.29 330.00L158.83 332.46L156.37 330.00Z" fill="#fff" stroke="#ff8f2a" stroke-width="1"/>
<path d="M191.57 340.94L194.03 343.40L191.57 345.86L189.11 343.40Z" fill="#fff" stroke="#ff8f2a" stroke-width="1"/>
<path d="M224.30 350.84L226.76 353.30L224.30 355.76L221.84 353.30Z" fill="#fff" stroke="#ff8f2a" stroke-width="1"/>
<line x1="167.90" y1="215.70" x2="185.70" y2="215.70" stroke="#202020" stroke-width="1.45"/>
<rect x="174.90" y="213.80" width="3.80" height="3.80" fill="#fff" stroke="#202020" stroke-width="1"/>
<text transform="translate(188.40,219.00) scale(0.93,1)" class="lg">Experimental</text>
<line x1="167.90" y1="225.65" x2="185.70" y2="225.65" stroke="#ff2222" stroke-width="1.45"/>
<circle cx="176.80" cy="225.65" r="2.09" fill="#ff2222" stroke="#ff2222" stroke-width="0.8"/>
<text transform="translate(188.40,228.95) scale(0.93,1)" class="lg">CML</text>
<line x1="167.90" y1="235.60" x2="185.70" y2="235.60" stroke="#3550f8" stroke-width="1.45"/>
<path d="M176.80 233.18L179.11 237.41L174.49 237.41Z" fill="#fff" stroke="#3550f8" stroke-width="1"/>
<text transform="translate(188.40,238.90) scale(0.93,1)" class="lg">JMatPro</text>
<line x1="167.90" y1="245.55" x2="185.70" y2="245.55" stroke="#33d433" stroke-width="1.45"/>
<path d="M176.80 247.97L179.11 243.73L174.49 243.73Z" fill="#fff" stroke="#33d433" stroke-width="1"/>
<text transform="translate(188.40,248.85) scale(0.93,1)" class="lg">MNE</text>
<line x1="167.90" y1="255.50" x2="185.70" y2="255.50" stroke="#ff8f2a" stroke-width="1.45"/>
<path d="M176.80 252.86L179.44 255.50L176.80 258.14L174.16 255.50Z" fill="#fff" stroke="#ff8f2a" stroke-width="1"/>
<text transform="translate(188.40,258.80) scale(0.93,1)" class="lg">D<tspan dx="0.7" dy="1.8" style="font-size:5.5px">I</tspan></text>
<rect x="336.90" y="207.20" width="209.50" height="168.80" fill="none" stroke="#666" stroke-width="1.2"/>
<line x1="336.90" y1="376.00" x2="336.90" y2="379.60" stroke="#626262" stroke-width="1"/>
<text transform="translate(336.90,387.00) scale(0.88,1)" class="tk" text-anchor="middle">0</text>
<line x1="369.62" y1="376.00" x2="369.62" y2="379.60" stroke="#626262" stroke-width="1"/>
<text transform="translate(369.62,387.00) scale(0.88,1)" class="tk" text-anchor="middle">5</text>
<line x1="402.33" y1="376.00" x2="402.33" y2="379.60" stroke="#626262" stroke-width="1"/>
<text transform="translate(402.33,387.00) scale(0.88,1)" class="tk" text-anchor="middle">10</text>
<line x1="435.05" y1="376.00" x2="435.05" y2="379.60" stroke="#626262" stroke-width="1"/>
<text transform="translate(435.05,387.00) scale(0.88,1)" class="tk" text-anchor="middle">15</text>
<line x1="467.77" y1="376.00" x2="467.77" y2="379.60" stroke="#626262" stroke-width="1"/>
<text transform="translate(467.77,387.00) scale(0.88,1)" class="tk" text-anchor="middle">20</text>
<line x1="500.48" y1="376.00" x2="500.48" y2="379.60" stroke="#626262" stroke-width="1"/>
<text transform="translate(500.48,387.00) scale(0.88,1)" class="tk" text-anchor="middle">25</text>
<line x1="533.20" y1="376.00" x2="533.20" y2="379.60" stroke="#626262" stroke-width="1"/>
<text transform="translate(533.20,387.00) scale(0.88,1)" class="tk" text-anchor="middle">30</text>
<line x1="353.26" y1="376.00" x2="353.26" y2="377.80" stroke="#626262" stroke-width="1"/>
<line x1="385.98" y1="376.00" x2="385.98" y2="377.80" stroke="#626262" stroke-width="1"/>
<line x1="418.69" y1="376.00" x2="418.69" y2="377.80" stroke="#626262" stroke-width="1"/>
<line x1="451.41" y1="376.00" x2="451.41" y2="377.80" stroke="#626262" stroke-width="1"/>
<line x1="484.12" y1="376.00" x2="484.12" y2="377.80" stroke="#626262" stroke-width="1"/>
<line x1="516.84" y1="376.00" x2="516.84" y2="377.80" stroke="#626262" stroke-width="1"/>
<line x1="333.60" y1="376.00" x2="336.90" y2="376.00" stroke="#626262" stroke-width="1"/>
<text transform="translate(331.10,378.10) scale(0.88,1)" class="tk" text-anchor="end">40</text>
<line x1="335.10" y1="347.87" x2="336.90" y2="347.87" stroke="#626262" stroke-width="1"/>
<line x1="333.60" y1="319.73" x2="336.90" y2="319.73" stroke="#626262" stroke-width="1"/>
<text transform="translate(331.10,321.83) scale(0.88,1)" class="tk" text-anchor="end">50</text>
<line x1="335.10" y1="291.60" x2="336.90" y2="291.60" stroke="#626262" stroke-width="1"/>
<line x1="333.60" y1="263.47" x2="336.90" y2="263.47" stroke="#626262" stroke-width="1"/>
<text transform="translate(331.10,265.57) scale(0.88,1)" class="tk" text-anchor="end">60</text>
<line x1="335.10" y1="235.33" x2="336.90" y2="235.33" stroke="#626262" stroke-width="1"/>
<line x1="333.60" y1="207.20" x2="336.90" y2="207.20" stroke="#626262" stroke-width="1"/>
<text transform="translate(331.10,209.30) scale(0.88,1)" class="tk" text-anchor="end">70</text>
<text x="434.30" y="397.20" class="xl" text-anchor="middle">X-Distance to quenching end (mm)</text>
<text transform="translate(320.10,290.95) rotate(-90)" class="yl" text-anchor="middle">Hardness (HRC)</text>
<text x="339.10" y="218.20" class="pl">(d)</text>
<path d="M346.71 268.00 L356.53 268.50 L376.16 275.00 L395.79 277.80 L415.42 282.40 L435.05 288.50 L454.68 296.90 L474.31 304.90 L493.94 316.40 L513.57 324.60 L533.20 330.20" fill="none" stroke="#202020" stroke-width="1.3" stroke-linejoin="round"/>
<rect x="344.96" y="266.25" width="3.50" height="3.50" fill="#fff" stroke="#202020" stroke-width="1"/>
<rect x="354.78" y="266.75" width="3.50" height="3.50" fill="#fff" stroke="#202020" stroke-width="1"/>
<rect x="374.41" y="273.25" width="3.50" height="3.50" fill="#fff" stroke="#202020" stroke-width="1"/>
<rect x="394.04" y="276.05" width="3.50" height="3.50" fill="#fff" stroke="#202020" stroke-width="1"/>
<rect x="413.67" y="280.65" width="3.50" height="3.50" fill="#fff" stroke="#202020" stroke-width="1"/>
<rect x="433.30" y="286.75" width="3.50" height="3.50" fill="#fff" stroke="#202020" stroke-width="1"/>
<rect x="452.93" y="295.15" width="3.50" height="3.50" fill="#fff" stroke="#202020" stroke-width="1"/>
<rect x="472.56" y="303.15" width="3.50" height="3.50" fill="#fff" stroke="#202020" stroke-width="1"/>
<rect x="492.19" y="314.65" width="3.50" height="3.50" fill="#fff" stroke="#202020" stroke-width="1"/>
<rect x="511.82" y="322.85" width="3.50" height="3.50" fill="#fff" stroke="#202020" stroke-width="1"/>
<rect x="531.45" y="328.45" width="3.50" height="3.50" fill="#fff" stroke="#202020" stroke-width="1"/>
<path d="M346.71 265.10 L356.53 265.10 L376.16 266.40 L395.79 275.10 L415.42 299.90 L435.05 323.30 L454.68 338.60 L474.31 349.20 L493.94 357.70 L513.57 364.40 L533.20 370.10" fill="none" stroke="#3550f8" stroke-width="1.3" stroke-linejoin="round"/>
<path d="M346.71 262.85L348.87 266.79L344.56 266.79Z" fill="#fff" stroke="#3550f8" stroke-width="1"/>
<path d="M356.53 262.85L358.68 266.79L354.38 266.79Z" fill="#fff" stroke="#3550f8" stroke-width="1"/>
<path d="M376.16 264.14L378.31 268.09L374.01 268.09Z" fill="#fff" stroke="#3550f8" stroke-width="1"/>
<path d="M395.79 272.85L397.94 276.79L393.64 276.79Z" fill="#fff" stroke="#3550f8" stroke-width="1"/>
<path d="M415.42 297.64L417.57 301.59L413.27 301.59Z" fill="#fff" stroke="#3550f8" stroke-width="1"/>
<path d="M435.05 321.05L437.20 324.99L432.90 324.99Z" fill="#fff" stroke="#3550f8" stroke-width="1"/>
<path d="M454.68 336.35L456.83 340.29L452.53 340.29Z" fill="#fff" stroke="#3550f8" stroke-width="1"/>
<path d="M474.31 346.94L476.46 350.89L472.16 350.89Z" fill="#fff" stroke="#3550f8" stroke-width="1"/>
<path d="M493.94 355.44L496.09 359.39L491.79 359.39Z" fill="#fff" stroke="#3550f8" stroke-width="1"/>
<path d="M513.57 362.14L515.72 366.09L511.42 366.09Z" fill="#fff" stroke="#3550f8" stroke-width="1"/>
<path d="M533.20 367.85L535.35 371.79L531.05 371.79Z" fill="#fff" stroke="#3550f8" stroke-width="1"/>
<path d="M346.71 266.90 L356.53 268.10 L376.16 274.00 L395.79 278.80 L415.42 284.10 L435.05 293.50 L454.68 297.40 L474.31 306.40 L493.94 319.20 L513.57 326.90 L533.20 333.00" fill="none" stroke="#ff2222" stroke-width="1.3" stroke-linejoin="round"/>
<circle cx="346.71" cy="266.90" r="1.95" fill="#ff2222" stroke="#ff2222" stroke-width="0.8"/>
<circle cx="356.53" cy="268.10" r="1.95" fill="#ff2222" stroke="#ff2222" stroke-width="0.8"/>
<circle cx="376.16" cy="274.00" r="1.95" fill="#ff2222" stroke="#ff2222" stroke-width="0.8"/>
<circle cx="395.79" cy="278.80" r="1.95" fill="#ff2222" stroke="#ff2222" stroke-width="0.8"/>
<circle cx="415.42" cy="284.10" r="1.95" fill="#ff2222" stroke="#ff2222" stroke-width="0.8"/>
<circle cx="435.05" cy="293.50" r="1.95" fill="#ff2222" stroke="#ff2222" stroke-width="0.8"/>
<circle cx="454.68" cy="297.40" r="1.95" fill="#ff2222" stroke="#ff2222" stroke-width="0.8"/>
<circle cx="474.31" cy="306.40" r="1.95" fill="#ff2222" stroke="#ff2222" stroke-width="0.8"/>
<circle cx="493.94" cy="319.20" r="1.95" fill="#ff2222" stroke="#ff2222" stroke-width="0.8"/>
<circle cx="513.57" cy="326.90" r="1.95" fill="#ff2222" stroke="#ff2222" stroke-width="0.8"/>
<circle cx="533.20" cy="333.00" r="1.95" fill="#ff2222" stroke="#ff2222" stroke-width="0.8"/>
<path d="M346.71 268.80 L356.53 268.80 L376.16 270.50 L395.79 270.10 L415.42 270.70 L435.05 270.90 L454.68 271.10 L474.31 271.70 L493.94 272.70 L513.57 274.00 L533.20 275.20" fill="none" stroke="#33d433" stroke-width="1.3" stroke-linejoin="round"/>
<path d="M346.71 271.06L348.87 267.11L344.56 267.11Z" fill="#fff" stroke="#33d433" stroke-width="1"/>
<path d="M356.53 271.06L358.68 267.11L354.38 267.11Z" fill="#fff" stroke="#33d433" stroke-width="1"/>
<path d="M376.16 272.75L378.31 268.81L374.01 268.81Z" fill="#fff" stroke="#33d433" stroke-width="1"/>
<path d="M395.79 272.36L397.94 268.41L393.64 268.41Z" fill="#fff" stroke="#33d433" stroke-width="1"/>
<path d="M415.42 272.95L417.57 269.01L413.27 269.01Z" fill="#fff" stroke="#33d433" stroke-width="1"/>
<path d="M435.05 273.15L437.20 269.21L432.90 269.21Z" fill="#fff" stroke="#33d433" stroke-width="1"/>
<path d="M454.68 273.36L456.83 269.41L452.53 269.41Z" fill="#fff" stroke="#33d433" stroke-width="1"/>
<path d="M474.31 273.95L476.46 270.01L472.16 270.01Z" fill="#fff" stroke="#33d433" stroke-width="1"/>
<path d="M493.94 274.95L496.09 271.01L491.79 271.01Z" fill="#fff" stroke="#33d433" stroke-width="1"/>
<path d="M513.57 276.25L515.72 272.31L511.42 272.31Z" fill="#fff" stroke="#33d433" stroke-width="1"/>
<path d="M533.20 277.45L535.35 273.51L531.05 273.51Z" fill="#fff" stroke="#33d433" stroke-width="1"/>
<path d="M346.71 269.60 L356.53 269.60 L369.62 269.60 L382.70 269.80 L395.79 269.90 L408.88 278.70 L421.96 286.00 L435.05 293.50 L467.77 315.00 L500.48 331.00 L533.20 342.80" fill="none" stroke="#ff8f2a" stroke-width="1.3" stroke-linejoin="round"/>
<path d="M346.71 267.14L349.17 269.60L346.71 272.06L344.25 269.60Z" fill="#fff" stroke="#ff8f2a" stroke-width="1"/>
<path d="M356.53 267.14L358.99 269.60L356.53 272.06L354.07 269.60Z" fill="#fff" stroke="#ff8f2a" stroke-width="1"/>
<path d="M369.62 267.14L372.08 269.60L369.62 272.06L367.16 269.60Z" fill="#fff" stroke="#ff8f2a" stroke-width="1"/>
<path d="M382.70 267.34L385.16 269.80L382.70 272.26L380.24 269.80Z" fill="#fff" stroke="#ff8f2a" stroke-width="1"/>
<path d="M395.79 267.44L398.25 269.90L395.79 272.36L393.33 269.90Z" fill="#fff" stroke="#ff8f2a" stroke-width="1"/>
<path d="M408.88 276.24L411.34 278.70L408.88 281.16L406.42 278.70Z" fill="#fff" stroke="#ff8f2a" stroke-width="1"/>
<path d="M421.96 283.54L424.42 286.00L421.96 288.46L419.50 286.00Z" fill="#fff" stroke="#ff8f2a" stroke-width="1"/>
<path d="M435.05 291.04L437.51 293.50L435.05 295.96L432.59 293.50Z" fill="#fff" stroke="#ff8f2a" stroke-width="1"/>
<path d="M467.77 312.54L470.23 315.00L467.77 317.46L465.31 315.00Z" fill="#fff" stroke="#ff8f2a" stroke-width="1"/>
<path d="M500.48 328.54L502.94 331.00L500.48 333.46L498.02 331.00Z" fill="#fff" stroke="#ff8f2a" stroke-width="1"/>
<path d="M533.20 340.34L535.66 342.80L533.20 345.26L530.74 342.80Z" fill="#fff" stroke="#ff8f2a" stroke-width="1"/>
<line x1="476.40" y1="215.30" x2="494.20" y2="215.30" stroke="#202020" stroke-width="1.45"/>
<rect x="483.40" y="213.40" width="3.80" height="3.80" fill="#fff" stroke="#202020" stroke-width="1"/>
<text transform="translate(496.90,218.60) scale(0.93,1)" class="lg">Experimental</text>
<line x1="476.40" y1="225.25" x2="494.20" y2="225.25" stroke="#ff2222" stroke-width="1.45"/>
<circle cx="485.30" cy="225.25" r="2.09" fill="#ff2222" stroke="#ff2222" stroke-width="0.8"/>
<text transform="translate(496.90,228.55) scale(0.93,1)" class="lg">CML</text>
<line x1="476.40" y1="235.20" x2="494.20" y2="235.20" stroke="#3550f8" stroke-width="1.45"/>
<path d="M485.30 232.78L487.61 237.02L482.99 237.02Z" fill="#fff" stroke="#3550f8" stroke-width="1"/>
<text transform="translate(496.90,238.50) scale(0.93,1)" class="lg">JMatPro</text>
<line x1="476.40" y1="245.15" x2="494.20" y2="245.15" stroke="#33d433" stroke-width="1.45"/>
<path d="M485.30 247.57L487.61 243.34L482.99 243.34Z" fill="#fff" stroke="#33d433" stroke-width="1"/>
<text transform="translate(496.90,248.45) scale(0.93,1)" class="lg">MNE</text>
<line x1="476.40" y1="255.10" x2="494.20" y2="255.10" stroke="#ff8f2a" stroke-width="1.45"/>
<path d="M485.30 252.46L487.94 255.10L485.30 257.74L482.66 255.10Z" fill="#fff" stroke="#ff8f2a" stroke-width="1"/>
<text transform="translate(496.90,258.40) scale(0.93,1)" class="lg">D<tspan dx="0.7" dy="1.8" style="font-size:5.5px">I</tspan></text>
</svg>
</body></html>
